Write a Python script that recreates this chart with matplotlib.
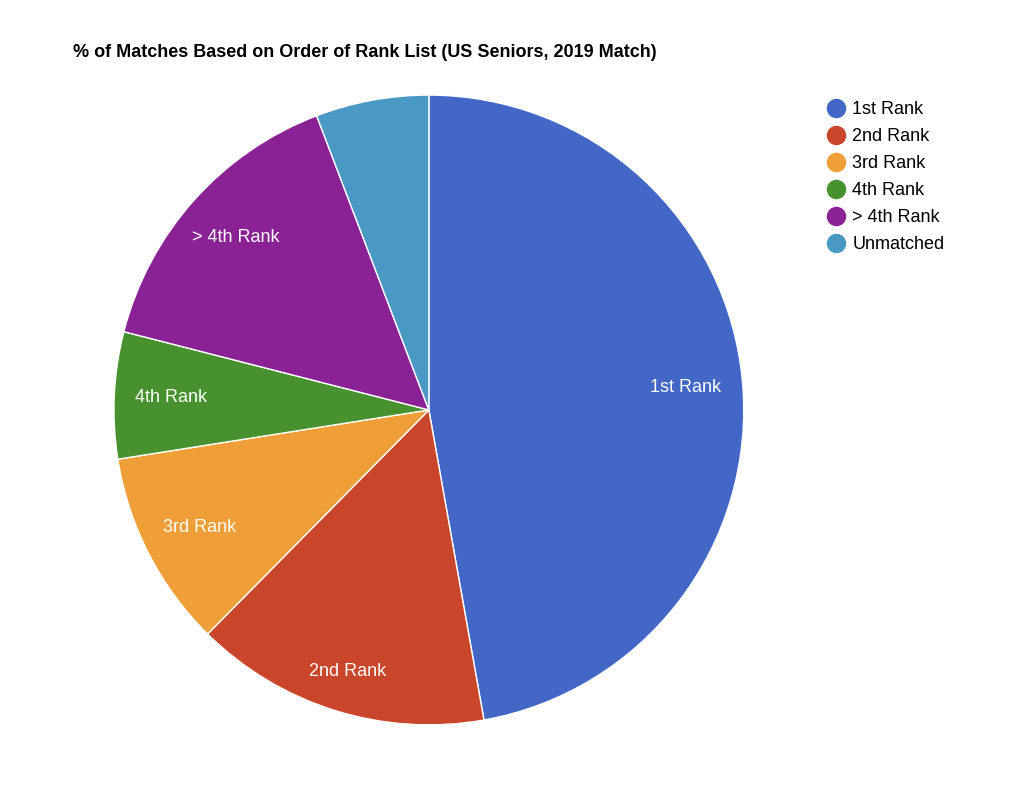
import numpy as np
import matplotlib.pyplot as plt
from matplotlib.lines import Line2D

plt.rcParams["font.family"] = ["Liberation Sans", "DejaVu Sans"]

categories = ["1st Rank", "2nd Rank", "3rd Rank", "4th Rank", "> 4th Rank", "Unmatched"]
shares = [47.2, 15.2, 10.1, 6.5, 15.2, 5.8]
show_label = [True, True, True, True, True, False]
colors = ["#4267C6", "#C9462A", "#F09E38", "#47922F", "#8A2295", "#4A98C4"]

fig = plt.figure(figsize=(10.24, 8.11), dpi=100)
ax = fig.add_axes([0.1113, 0.106, 0.615, 0.777])
wedges, _ = ax.pie(shares, colors=colors, startangle=90, counterclock=False,
                   wedgeprops={"edgecolor": "white", "linewidth": 1})
ax.set_xlim(-1, 1)
ax.set_ylim(-1, 1)
ax.set_aspect("equal")

# labels inside each slice
total = sum(shares)
start = 90.0
for name, val, show in zip(categories, shares, show_label):
    sweep = 360.0 * val / total
    mid = np.deg2rad(start - sweep / 2)
    start -= sweep
    if show:
        r = 0.87 if name == "2nd Rank" else 0.82
        ax.text(r * np.cos(mid), r * np.sin(mid), name, ha="center", va="center",
                color="white", fontsize=13)

fig.text(0.071, 0.935, "% of Matches Based on Order of Rank List (US Seniors, 2019 Match)",
         fontsize=13, fontweight="bold", ha="left", va="center")

handles = [Line2D([], [], marker="o", linestyle="", markersize=13,
                  markerfacecolor=c, markeredgecolor=c) for c in colors]
fig.legend(handles, categories, loc="upper left", bbox_to_anchor=(0.79, 0.895),
           frameon=False, fontsize=13, handletextpad=0.3, labelspacing=0.55,
           handlelength=1.2)

fig.savefig("out.png", dpi=100)
